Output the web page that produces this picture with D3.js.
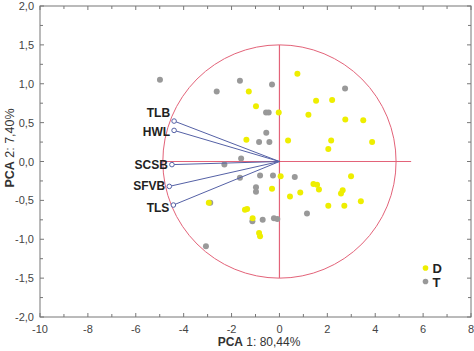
<!DOCTYPE html>
<html>
<head>
<meta charset="utf-8">
<script src="https://cdn.jsdelivr.net/npm/d3@7"></script>
<style>
  body { margin: 0; background: #fff; }
  text { font-family: "Liberation Sans", Arial, sans-serif; }
</style>
</head>
<body>
<div id="chart"></div>
<script>
// group D (yellow) scores
const dX = [0.75, -1.28, -0.98, -0.03, 1.21, 1.53, 2.20, 2.75, 3.50, -1.38, 0.36, 2.16, 2.04, 3.87,
    0.05, -0.31, 0.44, 0.87, -2.95, -1.44, -1.35, -1.12, -0.85, -0.81, 2.99, 1.42, 1.57, 1.65,
    2.64, 2.57, 2.04, 2.71, 3.40];
const dY = [1.13, 0.90, 0.71, 0.63, 0.60, 0.78, 0.79, 0.54, 0.53, 0.28, 0.27, 0.27, 0.16, 0.25,
    -0.19, -0.35, -0.45, -0.40, -0.53, -0.62, -0.61, -0.73, -0.92, -0.96, -0.19, -0.29, -0.30, -0.36,
    -0.37, -0.41, -0.57, -0.57, -0.51];
// group T (grey) scores
const tX = [-4.99, -1.65, -2.62, -0.31, -0.56, -0.45, -0.55, -0.85, -0.42, -1.60, -2.30, 2.74,
    -1.65, -0.81, -0.27, 0.64, -0.98, -0.98, -2.89, -1.13, -0.70, -0.23, -0.09, 1.15, -3.07];
const tY = [1.05, 1.04, 0.90, 0.99, 0.63, 0.63, 0.37, 0.25, 0.25, 0.04, -0.04, 0.94,
    -0.21, -0.18, -0.18, -0.20, -0.33, -0.39, -0.53, -0.77, -0.75, -0.73, -0.74, -0.67, -1.09];

// variable loadings (projected)
const varNames = ["TLB", "HWL", "SCSB", "SFVB", "TLS"];
const varX = [-4.40, -4.40, -4.49, -4.60, -4.43];
const varY = [0.52, 0.40, -0.04, -0.32, -0.56];

const xTicks = [-10, -8, -6, -4, -2, 0, 2, 4, 6, 8];
const yTicks = [-2, -1.5, -1, -0.5, 0, 0.5, 1, 1.5, 2];
const legendNames = ["D", "T"];

const yellow = "#eeee00", grey = "#999999";
const redLine = "#e36379", blueLine = "#5561a6";

const W = 474, H = 351;
const margin = { top: 6, right: 3, bottom: 34, left: 40 };

const svg = d3.select("#chart").append("svg")
    .attr("width", W).attr("height", H);

const x = d3.scaleLinear().domain([-10, 8]).range([margin.left, W - margin.right]);
const y = d3.scaleLinear().domain([-2, 2]).range([H - margin.bottom, margin.top]);

const fmt = v => d3.format(".1f")(v).replace(".", ",").replace("−", "-");

// frame
svg.append("rect")
    .attr("x", x(-10)).attr("y", y(2))
    .attr("width", x(8) - x(-10)).attr("height", y(-2) - y(2))
    .attr("fill", "none").attr("stroke", "#777").attr("stroke-width", 1);

// inward ticks on all four sides
const xMinor = d3.range(-10, 8.01, 1);
const yMinor = d3.range(-2, 2.01, 0.25);
const tk = svg.append("g").attr("stroke", "#777").attr("stroke-width", 1);
xMinor.forEach(v => {
    const len = v % 2 === 0 ? 4 : 3;
    tk.append("line").attr("x1", x(v)).attr("x2", x(v)).attr("y1", y(-2)).attr("y2", y(-2) - len);
    tk.append("line").attr("x1", x(v)).attr("x2", x(v)).attr("y1", y(2)).attr("y2", y(2) + len);
});
yMinor.forEach(v => {
    const len = Math.abs(v * 2 - Math.round(v * 2)) < 1e-6 ? 4 : 3;
    tk.append("line").attr("y1", y(v)).attr("y2", y(v)).attr("x1", x(-10)).attr("x2", x(-10) + len);
    tk.append("line").attr("y1", y(v)).attr("y2", y(v)).attr("x1", x(8)).attr("x2", x(8) - len);
});

// tick labels
svg.append("g").selectAll("text").data(xTicks).join("text")
    .attr("x", d => x(d)).attr("y", y(-2) + 16)
    .attr("text-anchor", "middle").attr("font-size", 11).attr("fill", "#444")
    .text(d => d);
svg.append("g").selectAll("text").data(yTicks).join("text")
    .attr("x", x(-10) - 6).attr("y", d => y(d) + 4)
    .attr("text-anchor", "end").attr("font-size", 11).attr("fill", "#444")
    .text(fmt);

// axis titles
const xt = svg.append("text")
    .attr("x", 259).attr("y", H - 5)
    .attr("text-anchor", "middle").attr("font-size", 12).attr("fill", "#333");
xt.append("tspan").attr("font-weight", "bold").text("PCA");
xt.append("tspan").text(" 1: 80,44%");

const yt = svg.append("text")
    .attr("transform", `translate(14,148) rotate(-90)`)
    .attr("text-anchor", "middle").attr("font-size", 12.5).attr("fill", "#333");
yt.append("tspan").attr("font-weight", "bold").text("PCA");
yt.append("tspan").text(" 2: 7,40%");

// correlation circle and cross
const r = y(0) - y(1.5);
svg.append("circle")
    .attr("cx", x(0)).attr("cy", y(0)).attr("r", r)
    .attr("fill", "none").attr("stroke", redLine).attr("stroke-width", 1);
svg.append("line")
    .attr("x1", x(0) - r).attr("x2", x(5.5)).attr("y1", y(0)).attr("y2", y(0))
    .attr("stroke", redLine).attr("stroke-width", 1.2);
svg.append("line")
    .attr("x1", x(0)).attr("x2", x(0)).attr("y1", y(1.5)).attr("y2", y(-1.5))
    .attr("stroke", redLine).attr("stroke-width", 1.2);

// points
const dPts = dX.map((v, i) => ({ x: v, y: dY[i] }));
const tPts = tX.map((v, i) => ({ x: v, y: tY[i] }));
svg.append("g").selectAll("circle").data(tPts).join("circle")
    .attr("cx", d => x(d.x)).attr("cy", d => y(d.y)).attr("r", 3)
    .attr("fill", grey);
svg.append("g").selectAll("circle").data(dPts).join("circle")
    .attr("cx", d => x(d.x)).attr("cy", d => y(d.y)).attr("r", 3)
    .attr("fill", yellow);

// loading vectors
const vars = varNames.map((n, i) => ({ name: n, x: varX[i], y: varY[i] }));
const labelDy = [-4, 6, 4, 4, 7];
const vg = svg.append("g");
vg.selectAll("line").data(vars).join("line")
    .attr("x1", x(0)).attr("y1", y(0))
    .attr("x2", d => x(d.x)).attr("y2", d => y(d.y))
    .attr("stroke", blueLine).attr("stroke-width", 1);
vg.selectAll("circle").data(vars).join("circle")
    .attr("cx", d => x(d.x)).attr("cy", d => y(d.y)).attr("r", 2.3)
    .attr("fill", "#fff").attr("stroke", blueLine).attr("stroke-width", 1);
vg.selectAll("text").data(vars).join("text")
    .attr("x", d => x(d.x) - 4).attr("y", (d, i) => y(d.y) + labelDy[i])
    .attr("text-anchor", "end").attr("font-size", 12).attr("font-weight", "bold")
    .attr("fill", "#222")
    .text(d => d.name);

// legend
const lg = svg.append("g").attr("transform", `translate(${x(6.1)},${y(-1.37)})`);
legendNames.forEach((n, i) => {
    lg.append("circle").attr("cx", 0).attr("cy", i * 13.5).attr("r", 2.8)
        .attr("fill", i === 0 ? yellow : grey);
    lg.append("text").attr("x", 7).attr("y", i * 13.5 + 5)
        .attr("font-size", 13).attr("font-weight", "bold").attr("fill", "#222")
        .text(n);
});
</script>
</body>
</html>
